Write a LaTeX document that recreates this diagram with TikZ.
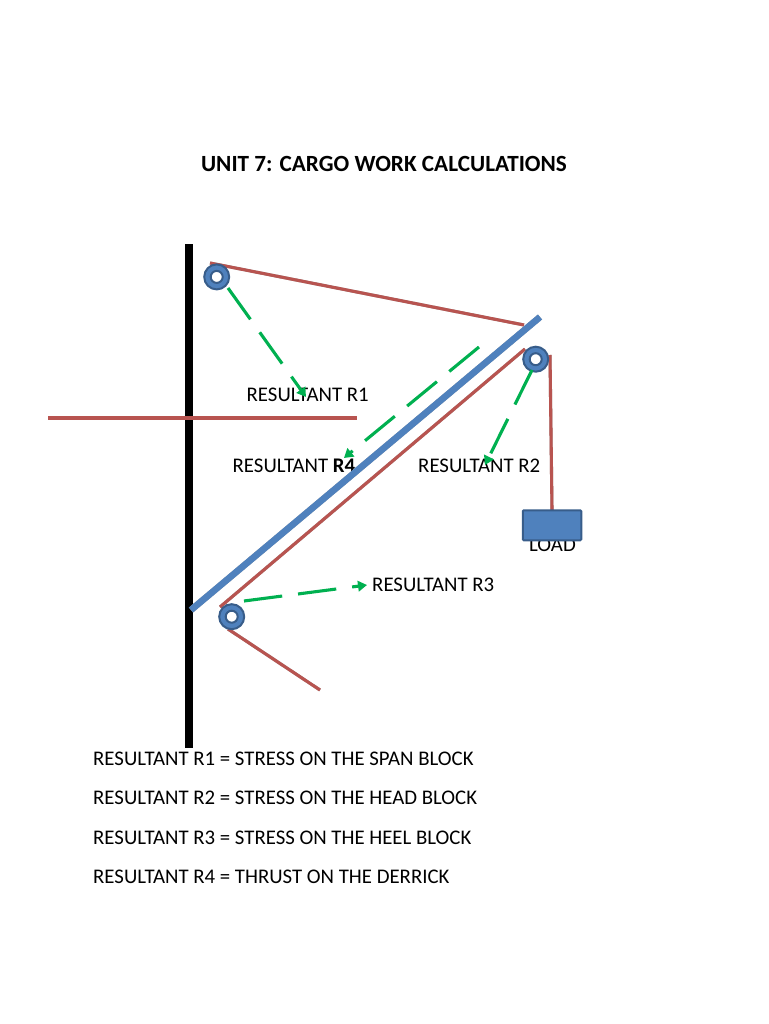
\documentclass[tikz,border=0pt]{standalone}
\usepackage{fontspec}
\setmainfont{Carlito}
\usetikzlibrary{arrows.meta}
\definecolor{rope}{HTML}{B85450}
\definecolor{blueF}{HTML}{4F81BD}
\definecolor{blueD}{HTML}{385D8A}
\definecolor{arrowG}{HTML}{00B050}
\tikzset{
  x=1pt,y=-1pt,
  ropeline/.style={draw=rope,line width=3.1pt},
  ropeshadow/.style={draw=black!35,line width=3.1pt,shift={(0.8,1.5)}},
  forceline/.style={draw=arrowG,line width=3.1pt,dash pattern=on 38.5pt off 16pt,-{Triangle[length=9pt,width=10.5pt]}},
  lbl/.style={anchor=west,inner sep=0pt,font=\fontsize{20.8pt}{24pt}\selectfont},
}
\begin{document}
\begin{tikzpicture}
\useasboundingbox (0,0) rectangle (768,1024);
% coordinates
\coordinate (mt) at (188.5,244); \coordinate (mb) at (188.5,748);
\coordinate (sa) at (210,263); \coordinate (sb) at (524,325);
\coordinate (ha) at (48,418); \coordinate (hb) at (357,418);
\coordinate (da) at (191,610); \coordinate (db) at (540,317);
\coordinate (ta) at (220,607); \coordinate (tb) at (525,349);
\coordinate (fa) at (550,355); \coordinate (fb) at (552,510);
\coordinate (ba) at (228,629); \coordinate (bb) at (320,690);
\coordinate (r1a) at (228,288); \coordinate (r1b) at (306,397);
\coordinate (r2a) at (532,370); \coordinate (r2b) at (485,465);
\coordinate (r3a) at (244,601); \coordinate (r3b) at (367,585);
\coordinate (r4a) at (479,347); \coordinate (r4b) at (344,458);
% title
\node[anchor=center,inner sep=0pt,font=\bfseries\fontsize{23.2pt}{28pt}\selectfont] (title) at (384,163.5) {UNIT 7: CARGO WORK CALCULATIONS};
% labels below drawing
\node[lbl] (l1) at (246.5,394.5) {RESULTANT R1};
\node[lbl] (l4) at (232.5,465.5) {RESULTANT \textbf{R4}};
\node[lbl] (l2) at (418,465.5) {RESULTANT R2};
\node[lbl] (l3) at (372,585) {RESULTANT R3};
\node[anchor=center,inner sep=0pt,font=\fontsize{20.8pt}{24pt}\selectfont] (ll) at (552.5,545) {LOAD};
% ropes
\foreach \a/\b in {sa/sb,ha/hb,ta/tb,fa/fb,ba/bb}{
  \draw[ropeshadow] (\a) -- (\b);
}
\draw[line width=8pt,black] (mt) -- (mb);
\foreach \a/\b in {sa/sb,ha/hb,ta/tb,fa/fb,ba/bb}{
  \draw[ropeline] (\a) -- (\b);
}
% derrick
\draw[draw=black!35,line width=6.5pt,shift={(0.8,1.5)}] (da) -- (db);
\draw[draw=blueF,line width=6.5pt] (da) -- (db);
% load
\node[draw=blueD,fill=blueF,line width=2pt,rounded corners=1pt,minimum width=58.5pt,minimum height=30pt,inner sep=0pt] (load) at (552,525.3) {};
% pulleys
\foreach \n/\p in {p1/{216.7,276.9},p2/{535.7,359.2},p3/{231.7,616.7}}{
  \draw[draw=blueD,line width=2pt,fill=blueF] (\p) circle (12.5pt);
  \draw[draw=blueD,line width=2pt,fill=white] (\p) circle (6pt);
}
% resultants
\draw[forceline] (r1a) -- (r1b);
\draw[forceline] (r2a) -- (r2b);
\draw[forceline] (r3a) -- (r3b);
\draw[forceline] (r4a) -- (r4b);
% legend
\node[lbl] (k1) at (93,758.5) {RESULTANT R1 = STRESS ON THE SPAN BLOCK};
\node[lbl] (k2) at (93,798) {RESULTANT R2 = STRESS ON THE HEAD BLOCK};
\node[lbl] (k3) at (93,837.5) {RESULTANT R3 = STRESS ON THE HEEL BLOCK};
\node[lbl] (k4) at (93,877) {RESULTANT R4 = THRUST ON THE DERRICK};
\end{tikzpicture}
\end{document}
